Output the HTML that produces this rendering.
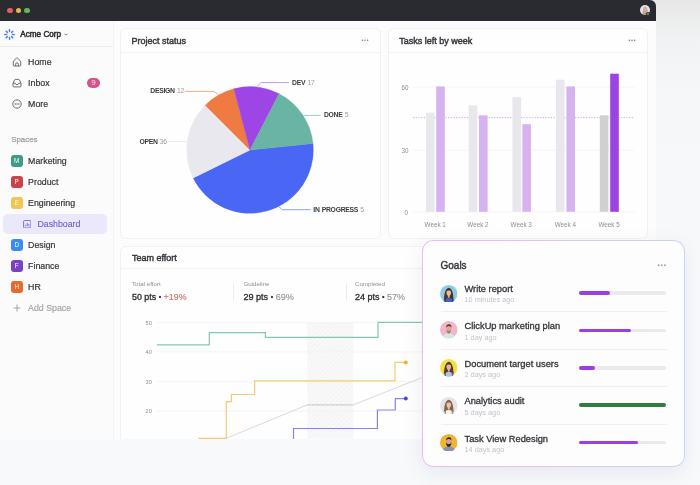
<!DOCTYPE html>
<html><head><meta charset="utf-8">
<style>
*{margin:0;padding:0;box-sizing:border-box}
html,body{width:700px;height:485px;overflow:hidden}
body{-webkit-font-smoothing:antialiased;position:relative;font-family:"Liberation Sans",sans-serif;background:linear-gradient(180deg,#e7e7e7 0%,#f1f2f3 8%,#f6f7f9 20%,#f8f9fb 60%);color:#2e2f33}
.a{position:absolute;white-space:nowrap}
.bottom{position:absolute;left:0;top:439px;width:700px;height:46px;background:#f8f9fb}
.win{position:absolute;left:0;top:0;width:655.5px;height:439.2px;background:#fcfcfc;border-top-right-radius:6px;overflow:hidden}
.titlebar{position:absolute;left:0;top:0;width:100%;height:20.5px;background:#292b30}
.dot{position:absolute;top:7.5px;width:5.6px;height:5.6px;border-radius:50%}
.sidebar{position:absolute;left:0;top:20.5px;width:114px;height:419px;background:#fbfbfb;border-right:1px solid #f3f3f3}
.sb{position:absolute;left:28.1px;font-size:8.8px;color:#35363b;line-height:10px;-webkit-text-stroke:0.2px #35363b}
.sp{position:absolute;left:10.7px;width:12px;height:12px;border-radius:3px;color:#fff;font-size:6.3px;text-align:center;line-height:12px}
.card{position:absolute;background:#fefefe;border:1px solid #f1f1f2;border-radius:6px}
.ct{position:absolute;font-size:9px;color:#37383d;line-height:10px;-webkit-text-stroke:0.45px #37383d}
.sep{position:absolute;height:1px;background:#f2f2f3}
.more{position:absolute;font-size:8px;color:#8a8a90;letter-spacing:-0.5px;line-height:6px}
.lbl{position:absolute;font-size:6.8px;font-weight:bold;color:#3a3b40;line-height:8px;letter-spacing:-0.28px;word-spacing:0.6px}
.lbl span{font-weight:normal;color:#9a9aa0}
.ax{position:absolute;font-size:6.3px;color:#8e8e94;line-height:8px}
.goals{position:absolute;left:422px;top:240.2px;width:262.6px;height:227px;border-radius:11px;background:#fdfdfd;box-shadow:0 6px 20px rgba(90,90,120,0.10);}
.goals:before{content:"";position:absolute;inset:0;border-radius:11px;padding:1px;background:linear-gradient(90deg,#e9bbf6 0%,#dcc6f5 50%,#c6d3f6 100%);-webkit-mask:linear-gradient(#000 0 0) content-box,linear-gradient(#000 0 0);-webkit-mask-composite:xor;mask-composite:exclude}
.gt{position:absolute;left:464.5px;font-size:9.3px;color:#333439;line-height:11px;-webkit-text-stroke:0.3px #333439}
.gs{position:absolute;left:464.5px;font-size:7.3px;color:#c4c4ca;line-height:9px}
.av{position:absolute;left:440px;width:17.5px;height:17.5px;border-radius:50%;overflow:hidden}
.track{position:absolute;left:579.3px;width:87px;height:3.4px;border-radius:2px;background:#eaeaec}
.fill{position:absolute;left:0;top:0;height:100%;border-radius:2px;background:#9b3fe2}
.gsep{position:absolute;left:440.5px;width:226px;height:1px;background:#efeff1}
</style></head><body>
<div id="root" style="position:absolute;left:0;top:0;width:700px;height:485px;will-change:transform">
<div class="bottom"></div>
<div class="win">
  <div class="titlebar"></div>
  <div class="dot" style="left:7px;background:#e0605a"></div>
  <div class="dot" style="left:15.7px;background:#e6b84c"></div>
  <div class="dot" style="left:24.3px;background:#5fb85a"></div>
  <!-- avatar in titlebar -->
  <svg class="a" style="left:639.5px;top:5.2px" width="10" height="10" viewBox="0 0 100 100"><defs><clipPath id="tb"><circle cx="50" cy="50" r="50"/></clipPath></defs><g clip-path="url(#tb)"><rect width="100" height="100" fill="#dfe5ec"/><path d="M28,100 C24,60 30,18 52,16 C74,18 80,60 76,100 Z" fill="#c9a58c"/><ellipse cx="50" cy="46" rx="15" ry="20" fill="#d9ae94"/><path d="M20,100 C26,82 38,78 50,78 C62,78 74,82 80,100 Z" fill="#b89078"/></g></svg>
  <div class="a" style="left:645.6px;top:11.6px;width:4px;height:4px;border-radius:50%;background:#4cb866;border:0.7px solid #2a2b30"></div>

  <div class="sidebar"></div>
  <!-- logo -->
  <svg class="a" style="left:4.1px;top:28.8px" width="11" height="11" viewBox="0 0 11 11">
    <g stroke="#4f82e6" stroke-width="1.55" stroke-linecap="round">
      <line x1="5.5" y1="0.8" x2="5.5" y2="2.6"/><line x1="5.5" y1="8.4" x2="5.5" y2="10.2"/>
      <line x1="0.8" y1="5.5" x2="2.6" y2="5.5"/><line x1="8.4" y1="5.5" x2="10.2" y2="5.5"/>
      <line x1="2.2" y1="2.2" x2="3.4" y2="3.4"/><line x1="7.6" y1="7.6" x2="8.8" y2="8.8"/>
      <line x1="8.8" y1="2.2" x2="7.6" y2="3.4"/><line x1="3.4" y1="7.6" x2="2.2" y2="8.8"/>
    </g>
  </svg>
  <div class="a" style="left:20.2px;top:30.4px;font-size:8.2px;color:#2e2f33;line-height:10px;-webkit-text-stroke:0.5px #2e2f33">Acme Corp</div>
  <svg class="a" style="left:63.5px;top:33.3px" width="4" height="3" viewBox="0 0 4 3"><path d="M0.5,0.7 L2,2.2 L3.5,0.7" stroke="#6a6a70" stroke-width="0.9" fill="none"/></svg>
  <div class="sep" style="left:0;top:46px;width:113px;background:#eeeeee"></div>

  <!-- Home/Inbox/More -->
  <svg class="a" style="left:12px;top:56.5px" width="10" height="10" viewBox="0 0 10 10"><path d="M1.3,4.6 Q1.3,4 1.8,3.6 L4.4,1.2 Q5,0.7 5.6,1.2 L8.2,3.6 Q8.7,4 8.7,4.6 L8.7,8.3 Q8.7,9 8,9 L2,9 Q1.3,9 1.3,8.3 Z M3.6,9 V7.2 Q3.6,5.9 5,5.9 Q6.4,5.9 6.4,7.2 V9" stroke="#66666c" stroke-width="0.95" fill="none" stroke-linejoin="round"/></svg>
  <div class="sb" style="top:56.8px">Home</div>
  <svg class="a" style="left:12px;top:77.5px" width="10" height="10" viewBox="0 0 10 10"><path d="M1,5.2 L2.6,1.9 Q2.8,1.4 3.3,1.4 L6.7,1.4 Q7.2,1.4 7.4,1.9 L9,5.2 V8.1 Q9,8.9 8.2,8.9 H1.8 Q1,8.9 1,8.1 Z M1,5.2 H3.2 Q3.7,6.7 5,6.7 Q6.3,6.7 6.8,5.2 H9" stroke="#66666c" stroke-width="0.95" fill="none" stroke-linejoin="round"/></svg>
  <div class="sb" style="top:77.7px">Inbox</div>
  <div class="a" style="left:87px;top:77.5px;width:13.2px;height:10.4px;border-radius:5.2px;background:#d9508a;color:#fbe4ee;font-size:8px;text-align:center;line-height:10.6px">9</div>
  <svg class="a" style="left:12px;top:99.3px" width="10" height="10" viewBox="0 0 10 10"><circle cx="5" cy="5" r="4.2" stroke="#66666c" stroke-width="0.95" fill="none"/><g fill="#66666c"><circle cx="3.2" cy="5" r="0.7"/><circle cx="5" cy="5" r="0.7"/><circle cx="6.8" cy="5" r="0.7"/></g></svg>
  <div class="sb" style="top:99.1px">More</div>

  <div class="a" style="left:11.2px;top:134.9px;font-size:7.9px;color:#a2a2a8;line-height:9px;-webkit-text-stroke:0.25px #a2a2a8">Spaces</div>
  <div class="sp" style="top:154.6px;background:#3f9a86">M</div><div class="sb" style="top:155.6px">Marketing</div>
  <div class="sp" style="top:175.5px;background:#c9434b">P</div><div class="sb" style="top:176.5px">Product</div>
  <div class="sp" style="top:196.6px;background:#f2c451">E</div><div class="sb" style="top:197.6px">Engineering</div>
  <div class="a" style="left:3px;top:214.1px;width:103.6px;height:19.9px;border-radius:5px;background:#ece8fb"></div>
  <svg class="a" style="left:22.5px;top:219.7px" width="8.5" height="8.5" viewBox="0 0 9 9"><rect x="0.6" y="0.6" width="7.8" height="7.8" rx="1" stroke="#7060c8" stroke-width="0.9" fill="none"/><path d="M2.8,6.6 V5 M4.5,6.6 V3.2 M6.2,6.6 V4.2" stroke="#7060c8" stroke-width="0.9"/></svg>
  <div class="sb" style="left:37.4px;top:218.7px;color:#6e5ecb;-webkit-text-stroke:0.1px #6e5ecb">Dashboard</div>
  <div class="sp" style="top:239.2px;background:#3b8cf2">D</div><div class="sb" style="top:240.2px">Design</div>
  <div class="sp" style="top:259.8px;background:#7a40c6">F</div><div class="sb" style="top:260.8px">Finance</div>
  <div class="sp" style="top:280.9px;background:#e8692c">H</div><div class="sb" style="top:281.9px">HR</div>
  <svg class="a" style="left:12.5px;top:304px" width="8" height="8" viewBox="0 0 8 8"><path d="M4,0.5 V7.5 M0.5,4 H7.5" stroke="#9a9aa0" stroke-width="0.9"/></svg>
  <div class="sb" style="top:302.9px;color:#a2a2a8;-webkit-text-stroke:0.15px #a2a2a8">Add Space</div>

  <!-- Project status card -->
  <div class="card" style="left:120px;top:28px;width:261px;height:211px"></div>
  <div class="sep" style="left:121px;top:52px;width:259px"></div>
  <div class="ct" style="left:131.6px;top:35.9px">Project status</div>
  <svg class="a" style="left:361px;top:39px" width="8" height="3" viewBox="0 0 8 3"><g fill="#74747a"><circle cx="1.4" cy="1.3" r="0.75"/><circle cx="4" cy="1.3" r="0.75"/><circle cx="6.6" cy="1.3" r="0.75"/></g></svg>

  <!-- Tasks card -->
  <div class="card" style="left:388px;top:28px;width:260px;height:211px"></div>
  <div class="sep" style="left:389px;top:52px;width:258px"></div>
  <div class="ct" style="left:399.2px;top:35.8px">Tasks left by week</div>
  <svg class="a" style="left:628px;top:38.7px" width="8" height="3" viewBox="0 0 8 3"><g fill="#74747a"><circle cx="1.4" cy="1.3" r="0.75"/><circle cx="4" cy="1.3" r="0.75"/><circle cx="6.6" cy="1.3" r="0.75"/></g></svg>

  <!-- Team effort card -->
  <div class="card" style="left:120px;top:246px;width:528px;height:260px"></div>
  <div class="sep" style="left:121px;top:268px;width:526px"></div>
  <div class="ct" style="left:132px;top:253.1px">Team effort</div>
  <div class="a" style="left:132px;top:280.4px;font-size:6.2px;color:#8e8e94;line-height:8px">Total effort</div>
  <div class="a" style="left:132px;top:292.2px;font-size:8.9px;color:#2e2f33;line-height:10px;-webkit-text-stroke:0.32px #2e2f33">50 pts <span style="font-size:7px;position:relative;top:-0.8px">•</span> <span style="-webkit-text-stroke:0.1px #cc6a5e;color:#cc6a5e">+19%</span></div>
  <div class="a" style="left:233.2px;top:283px;width:1px;height:18px;background:#ececec"></div>
  <div class="a" style="left:243.4px;top:280.4px;font-size:6.2px;color:#8e8e94;line-height:8px">Guideline</div>
  <div class="a" style="left:243.4px;top:292.2px;font-size:9.1px;color:#2e2f33;line-height:10px;-webkit-text-stroke:0.32px #2e2f33">29 pts <span style="font-size:7px;position:relative;top:-0.8px">•</span> <span style="-webkit-text-stroke:0.1px #8e8e94;color:#8e8e94">69%</span></div>
  <div class="a" style="left:345.5px;top:283px;width:1px;height:18px;background:#ececec"></div>
  <div class="a" style="left:355px;top:280.4px;font-size:6.2px;color:#8e8e94;line-height:8px">Completed</div>
  <div class="a" style="left:355px;top:292.2px;font-size:9px;color:#2e2f33;line-height:10px;-webkit-text-stroke:0.32px #2e2f33">24 pts <span style="font-size:7px;position:relative;top:-0.8px">•</span> <span style="-webkit-text-stroke:0.1px #8e8e94;color:#8e8e94">57%</span></div>

  <!-- charts svg -->
  <svg class="a" style="left:0;top:0" width="655" height="440" viewBox="0 0 655 440">
    <defs>
      <pattern id="hatch" width="3.5" height="3.5" patternUnits="userSpaceOnUse" patternTransform="rotate(45)">
        <rect width="3.5" height="3.5" fill="#f8f8f9"/><line x1="0" y1="0" x2="0" y2="3.5" stroke="#f0f0f2" stroke-width="1"/>
      </pattern>
    </defs>
    <path d="M250.00,150.00 L312.96,143.48 A63.3,63.3 0 0 1 193.20,177.94 Z" fill="#4a66f4" stroke="#4a66f4" stroke-width="0.4" stroke-linejoin="round"/>
<path d="M250.00,150.00 L193.20,177.94 A63.3,63.3 0 0 1 205.24,105.24 Z" fill="#e8e8ee" stroke="#e8e8ee" stroke-width="0.4" stroke-linejoin="round"/>
<path d="M250.00,150.00 L205.24,105.24 A63.3,63.3 0 0 1 233.88,88.79 Z" fill="#ef7b42" stroke="#ef7b42" stroke-width="0.4" stroke-linejoin="round"/>
<path d="M250.00,150.00 L233.88,88.79 A63.3,63.3 0 0 1 279.07,93.77 Z" fill="#9d45e5" stroke="#9d45e5" stroke-width="0.4" stroke-linejoin="round"/>
<path d="M250.00,150.00 L279.07,93.77 A63.3,63.3 0 0 1 312.96,143.48 Z" fill="#6ab4a4" stroke="#6ab4a4" stroke-width="0.4" stroke-linejoin="round"/>
    <!-- leaders -->
    <path d="M185.1,91.4 H214 L217.9,94.5" stroke="#f2a27c" stroke-width="0.9" fill="none"/>
    <path d="M257.1,86.4 L260.7,82.6 H288.9" stroke="#c38cf0" stroke-width="0.9" fill="none"/>
    <path d="M303.6,115.4 H320.7" stroke="#8ec9bc" stroke-width="0.9" fill="none"/>
    <path d="M168.5,141.5 H187" stroke="#e6e6ec" stroke-width="0.9" fill="none"/>
    <path d="M278.9,206.7 L282.1,209.7 H310.7" stroke="#8598f6" stroke-width="0.9" fill="none"/>

    <!-- bar chart grid -->
    <g stroke="#f3f3f5" stroke-width="0.8">
      <line x1="413" y1="87.2" x2="634.5" y2="87.2"/>
      <line x1="413" y1="150.2" x2="634.5" y2="150.2"/>
      <line x1="413" y1="211.9" x2="634.5" y2="211.9"/>
    </g>
    <line x1="413" y1="117.6" x2="634.5" y2="117.6" stroke="#d39cf3" stroke-width="0.9" stroke-dasharray="1.3,1.4"/>
    <g fill="#e8e8ec">
      <rect x="426.0" y="112.7" width="8.6" height="99.1"/>
      <rect x="468.7" y="105.3" width="8.6" height="106.5"/>
      <rect x="512.5" y="97.1" width="8.6" height="114.7"/>
      <rect x="556.0" y="79.7" width="8.6" height="132.1"/>
    </g>
    <rect x="599.8" y="115.3" width="8.6" height="96.5" fill="#d0d0d0"/>
    <g fill="#d7b2f1">
      <rect x="436.2" y="86.4" width="8.6" height="125.4"/>
      <rect x="479.0" y="115.3" width="8.6" height="96.5"/>
      <rect x="522.3" y="124.2" width="8.6" height="87.6"/>
      <rect x="566.4" y="86.4" width="8.6" height="125.4"/>
    </g>
    <rect x="610.2" y="73.7" width="8.6" height="138.1" fill="#9c43e2"/>
    

    <!-- team effort chart -->
    <rect x="307.2" y="322.4" width="46" height="116" fill="url(#hatch)"/>
    <g stroke="#f0f0f2" stroke-width="0.7">
      <line x1="157" y1="322.6" x2="650" y2="322.6"/>
      <line x1="157" y1="351.9" x2="650" y2="351.9"/>
      <line x1="157" y1="381.6" x2="650" y2="381.6"/>
      <line x1="157" y1="411" x2="650" y2="411"/>
    </g>
    <path d="M157,344.9 H209.3 V332.6 H265.4 V337.3 H378 V322.4 H650" stroke="#84c7b1" stroke-width="1.2" fill="none"/>
    <path d="M198.5,438.3 H226.3 V401.7 H231.4 V394.5 H254.7 V380.8 H395 V362.4 H405.8" stroke="#f3ca72" stroke-width="1.2" fill="none"/>
    <circle cx="405.8" cy="362.4" r="2" fill="#f0b030"/>
    <path d="M226.3,438.3 L307.2,404.9 H353.2 L430,374.4" stroke="#cfcfd2" stroke-width="0.8" fill="none"/>
    <path d="M307.2,404.9 H353.2" stroke="#b9b9bd" stroke-width="0.8" stroke-dasharray="1.2,1.2" fill="none"/>
    <path d="M293.5,440 V428.5 H377.4 V410 H395.3 V398.6 H405.8" stroke="#8583f3" stroke-width="1.2" fill="none"/>
    <circle cx="405.8" cy="398.6" r="2" fill="#4b48e6"/>
  </svg>

  <!-- pie labels -->
  <div class="lbl" style="left:150.3px;top:87.4px">DESIGN <span>12</span></div>
  <div class="lbl" style="left:292.1px;top:78.9px">DEV <span>17</span></div>
  <div class="lbl" style="left:323.9px;top:111.4px">DONE <span>5</span></div>
  <div class="lbl" style="left:139.5px;top:137.5px">OPEN <span>36</span></div>
  <div class="lbl" style="left:313.3px;top:205.7px">IN PROGRESS <span>5</span></div>

  <!-- bar axis labels -->
  <div class="ax" style="left:401.5px;top:84px">60</div>
  <div class="ax" style="left:401.5px;top:147px">30</div>
  <div class="ax" style="left:404.5px;top:209px">0</div>
  <div class="ax" style="left:424.6px;top:220.5px">Week 1</div>
  <div class="ax" style="left:467.3px;top:220.5px">Week 2</div>
  <div class="ax" style="left:510.6px;top:220.5px">Week 3</div>
  <div class="ax" style="left:554.7px;top:220.5px">Week 4</div>
  <div class="ax" style="left:598.5px;top:220.5px">Week 5</div>

  <!-- team axis -->
  <div class="ax" style="left:145.6px;top:318.6px;font-size:5.6px">50</div>
  <div class="ax" style="left:145.6px;top:347.9px;font-size:5.6px">40</div>
  <div class="ax" style="left:145.6px;top:377.6px;font-size:5.6px">30</div>
  <div class="ax" style="left:145.6px;top:407px;font-size:5.6px">20</div>
</div>

<!-- Goals card -->
<div class="goals"></div>
<div class="a" style="left:440.5px;top:259.6px;font-size:10px;color:#3a3b40;line-height:12px;-webkit-text-stroke:0.45px #3a3b40">Goals</div>
<svg class="a" style="left:657px;top:264px" width="10" height="3" viewBox="0 0 10 3"><g fill="#a2a2a8"><circle cx="1.6" cy="1.3" r="0.95"/><circle cx="4.75" cy="1.3" r="0.95"/><circle cx="7.9" cy="1.3" r="0.95"/></g></svg>

<svg class="a" style="left:440px;top:284.6px" width="17.5" height="17.5" viewBox="0 0 100 100"><defs><clipPath id="c284"><circle cx="50" cy="50" r="50"/></clipPath></defs><g clip-path="url(#c284)"><rect width="100" height="100" fill="#8ccbea"/><path d="M22,100 C22,60 28,18 50,16 C72,18 78,60 78,100 Z" fill="#4e3424"/><path d="M18,100 C22,80 34,74 50,74 C66,74 78,80 82,100 Z" fill="#3a64c8"/><path d="M28,100 C26,70 30,40 36,30 L32,100 Z M72,100 C74,70 70,40 64,30 L68,100 Z" fill="#4e3424"/><ellipse cx="50" cy="44" rx="13" ry="17" fill="#e6bca2"/><rect x="45" y="56" width="10" height="16" fill="#e6bca2"/><path d="M37,36 C38,24 46,22 50,22 C56,22 63,26 63,36 C58,30 44,28 37,36 Z" fill="#4e3424"/></g></svg>
<div class="gt" style="top:284.0px">Write report</div>
<div class="gs" style="top:295.2px">10 minutes ago</div>
<div class="track" style="top:291.2px"><div class="fill" style="width:30.3px"></div></div>
<div class="gsep" style="top:311px"></div>

<svg class="a" style="left:440px;top:321.4px" width="17.5" height="17.5" viewBox="0 0 100 100"><defs><clipPath id="c321"><circle cx="50" cy="50" r="50"/></clipPath></defs><g clip-path="url(#c321)"><rect width="100" height="100" fill="#f1b6cb"/><path d="M14,100 C18,78 32,72 50,72 C68,72 82,78 86,100 Z" fill="#cdeae2"/><rect x="44" y="58" width="12" height="16" fill="#dba68e"/><ellipse cx="50" cy="44" rx="14" ry="18" fill="#dba68e"/><path d="M35,38 C34,22 44,18 51,18 C60,18 67,24 65,38 C62,30 56,28 50,28 C43,28 38,31 35,38 Z" fill="#4a3428"/><path d="M37,48 C38,64 44,68 50,68 C56,68 62,64 63,48 C60,56 56,58 50,58 C44,58 40,56 37,48 Z" fill="#8a6a58"/></g></svg>
<div class="gt" style="top:321.4px">ClickUp marketing plan</div>
<div class="gs" style="top:332.7px">1 day ago</div>
<div class="track" style="top:328.8px"><div class="fill" style="width:51.9px"></div></div>
<div class="gsep" style="top:348.5px"></div>

<svg class="a" style="left:440px;top:359.3px" width="17.5" height="17.5" viewBox="0 0 100 100"><defs><clipPath id="c359"><circle cx="50" cy="50" r="50"/></clipPath></defs><g clip-path="url(#c359)"><rect width="100" height="100" fill="#f2df4c"/><path d="M22,100 C22,60 28,18 50,16 C72,18 78,60 78,100 Z" fill="#5a3a2a"/><path d="M18,100 C22,80 34,74 50,74 C66,74 78,80 82,100 Z" fill="#a9c6ee"/><path d="M28,100 C26,70 30,40 36,30 L32,100 Z M72,100 C74,70 70,40 64,30 L68,100 Z" fill="#5a3a2a"/><ellipse cx="50" cy="44" rx="13" ry="17" fill="#e4b69e"/><rect x="45" y="56" width="10" height="16" fill="#e4b69e"/><path d="M37,36 C38,24 46,22 50,22 C56,22 63,26 63,36 C58,30 44,28 37,36 Z" fill="#5a3a2a"/></g></svg>
<div class="gt" style="top:358.8px">Document target users</div>
<div class="gs" style="top:370.2px">2 days ago</div>
<div class="track" style="top:366.4px"><div class="fill" style="width:15.9px"></div></div>
<div class="gsep" style="top:386.3px"></div>

<svg class="a" style="left:440px;top:396.6px" width="17.5" height="17.5" viewBox="0 0 100 100"><defs><clipPath id="c396"><circle cx="50" cy="50" r="50"/></clipPath></defs><g clip-path="url(#c396)"><rect width="100" height="100" fill="#e3e3ea"/><path d="M22,100 C22,60 28,18 50,16 C72,18 78,60 78,100 Z" fill="#8a6048"/><path d="M18,100 C22,80 34,74 50,74 C66,74 78,80 82,100 Z" fill="#f2f2f5"/><path d="M28,100 C26,70 30,40 36,30 L32,100 Z M72,100 C74,70 70,40 64,30 L68,100 Z" fill="#8a6048"/><ellipse cx="50" cy="44" rx="13" ry="17" fill="#e8c2aa"/><rect x="45" y="56" width="10" height="16" fill="#e8c2aa"/><path d="M37,36 C38,24 46,22 50,22 C56,22 63,26 63,36 C58,30 44,28 37,36 Z" fill="#8a6048"/></g></svg>
<div class="gt" style="top:396.2px">Analytics audit</div>
<div class="gs" style="top:407.7px">5 days ago</div>
<div class="track" style="top:403.3px;height:4px;background:#2f7d3c"></div>
<div class="gsep" style="top:423.6px"></div>

<svg class="a" style="left:440px;top:433.8px" width="17.5" height="17.5" viewBox="0 0 100 100"><defs><clipPath id="c433"><circle cx="50" cy="50" r="50"/></clipPath></defs><g clip-path="url(#c433)"><rect width="100" height="100" fill="#f0b434"/><path d="M14,100 C18,78 32,72 50,72 C68,72 82,78 86,100 Z" fill="#8a92b4"/><rect x="44" y="58" width="12" height="16" fill="#d6a48c"/><ellipse cx="50" cy="44" rx="14" ry="18" fill="#d6a48c"/><path d="M35,38 C34,22 44,18 51,18 C60,18 67,24 65,38 C62,30 56,28 50,28 C43,28 38,31 35,38 Z" fill="#2e2420"/><path d="M35,46 C35,68 43,74 50,74 C57,74 65,68 65,46 C62,56 57,58 50,58 C43,58 38,56 35,46 Z" fill="#2e2420"/></g></svg>
<div class="gt" style="top:433.6px">Task View Redesign</div>
<div class="gs" style="top:445.2px">14 days ago</div>
<div class="track" style="top:440.9px"><div class="fill" style="width:58.7px"></div></div>
</div>
</body></html>
